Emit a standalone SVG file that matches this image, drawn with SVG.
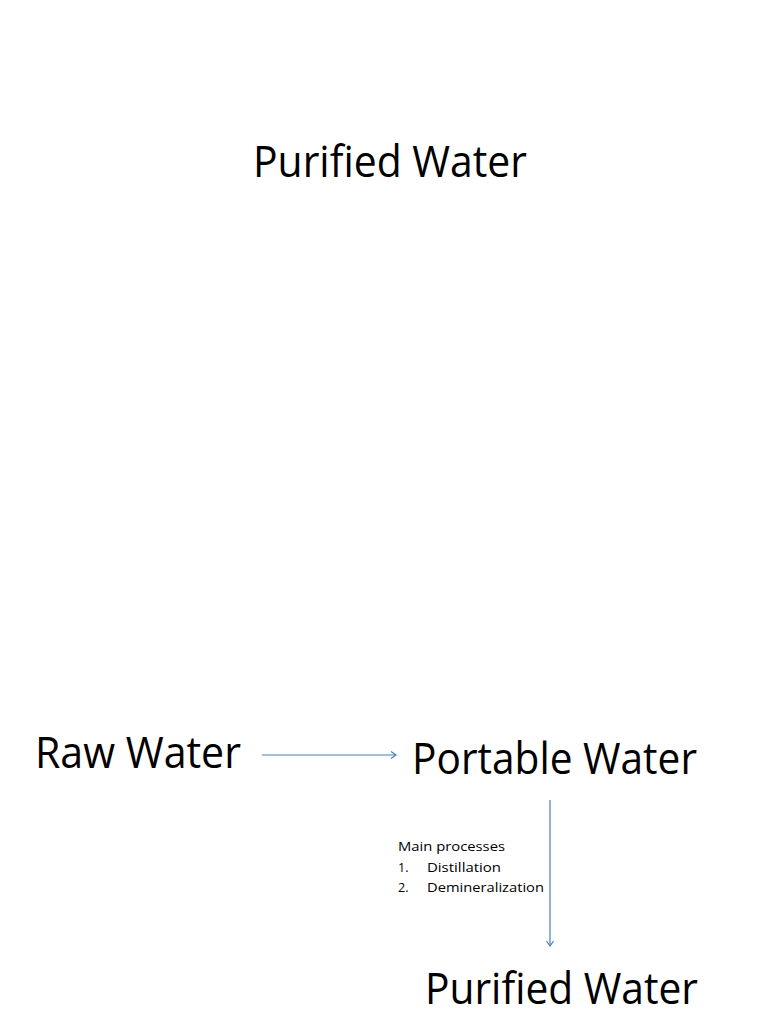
<svg xmlns="http://www.w3.org/2000/svg" width="768" height="1024" viewBox="0 0 768 1024">
<style>
.big{font-family:"Open Sans","Noto Sans","Liberation Sans",sans-serif;font-size:43px;fill:#000}
.small{font-family:"Open Sans","Noto Sans","Liberation Sans",sans-serif;font-size:12.5px;fill:#000}
.conn{stroke:#4a7ebb;stroke-width:1.2;fill:none}
.head{stroke:#4a7ebb;stroke-width:1.2;fill:none}
</style>
<rect width="768" height="1024" fill="#fff"/>
<g id="title"><text class="big" x="253" y="177" textLength="274" lengthAdjust="spacingAndGlyphs">Purified Water</text></g>
<g id="raw"><text class="big" x="35" y="768" textLength="206" lengthAdjust="spacingAndGlyphs">Raw Water</text></g>
<g id="portable"><text class="big" x="412" y="774" textLength="285" lengthAdjust="spacingAndGlyphs">Portable Water</text></g>
<g id="purified"><text class="big" x="425" y="1004" textLength="273" lengthAdjust="spacingAndGlyphs">Purified Water</text></g>
<g id="processes">
<text class="small" x="398" y="851" textLength="107" lengthAdjust="spacingAndGlyphs">Main processes</text>
<text class="small" x="398" y="872">1.</text>
<text class="small" x="427" y="872" textLength="74" lengthAdjust="spacingAndGlyphs">Distillation</text>
<text class="small" x="398" y="892">2.</text>
<text class="small" x="427" y="892" textLength="117" lengthAdjust="spacingAndGlyphs">Demineralization</text>
</g>
<g id="connectors">
<line class="conn" x1="262" y1="755" x2="396" y2="755"/>
<polyline class="head" points="391,751.5 396,755 391,758.5"/>
<line class="conn" x1="550" y1="800" x2="550" y2="946"/>
<polyline class="head" points="546.5,941 550,946 553.5,941"/>
</g>
</svg>
